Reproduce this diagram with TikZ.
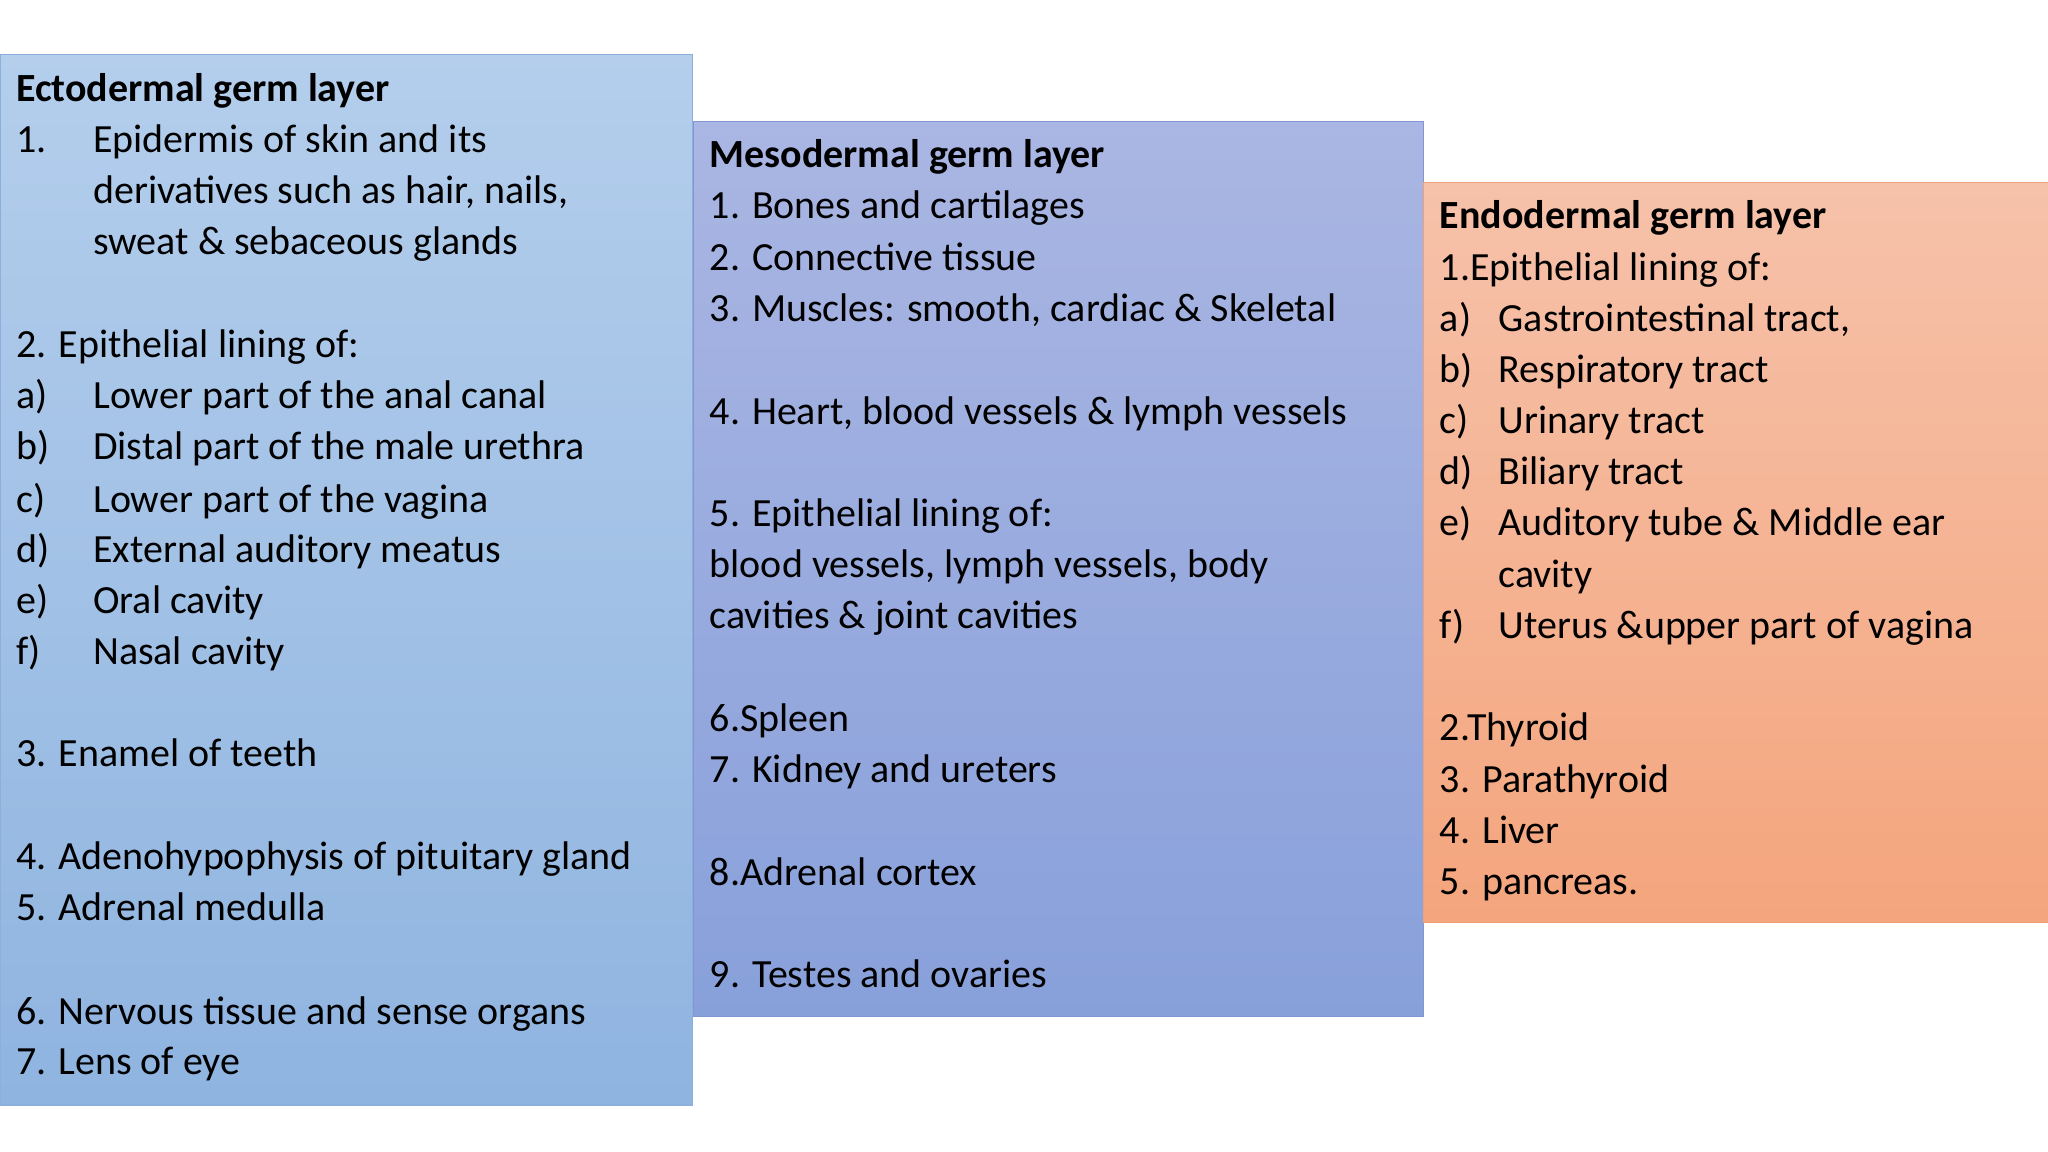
\documentclass[tikz,border=0pt]{standalone}
\usepackage{fontspec}
\setmainfont{Carlito}
\begin{document}
\begin{tikzpicture}[x=0.5pt,y=-0.5pt,
  txt/.style={anchor=base west,inner sep=0pt,font=\fontsize{15.3}{18}\selectfont},
  hd/.style={txt,font=\fontsize{15.3}{18}\selectfont\bfseries}]
\newcommand\tl[4]{\node[txt] (#1) at (#2,#3+9) {#4};}
\newcommand\hl[4]{\node[hd] (#1) at (#2,#3+9) {#4};}
\useasboundingbox (0,0) rectangle (1568,882);
\fill[white] (0,0) rectangle (1568,882);
\shade[top color={rgb,255:red,180;green,206;blue,236},bottom color={rgb,255:red,143;green,180;blue,224},draw={rgb,255:red,140;green,175;blue,220}] (0,42) rectangle (530,846);
\shade[top color={rgb,255:red,170;green,182;blue,227},bottom color={rgb,255:red,136;green,160;blue,218},draw={rgb,255:red,130;green,150;blue,210}] (531,93) rectangle (1090,778);
\shade[top color={rgb,255:red,246;green,194;blue,170},bottom color={rgb,255:red,244;green,165;blue,125},draw={rgb,255:red,240;green,160;blue,120}] (1090,140) rectangle (1568,706);
% left
\hl{e0}{12}{69}{Ectodermal germ layer}
\tl{e1}{12}{108}{1.}\tl{e1b}{71}{108}{Epidermis of skin and its}
\tl{e1c}{71}{147}{derivatives such as hair, nails,}
\tl{e1d}{71}{186}{sweat \& sebaceous glands}
\tl{e2}{12}{265}{2. Epithelial lining of:}
\tl{ea}{12}{304}{a)}\tl{eat}{71}{304}{Lower part of the anal canal}
\tl{eb}{12}{343}{b)}\tl{ebt}{71}{343}{Distal part of the male urethra}
\tl{ec}{12}{383}{c)}\tl{ect}{71}{383}{Lower part of the vagina}
\tl{ed}{12}{422}{d)}\tl{edt}{71}{422}{External auditory meatus}
\tl{ee}{12}{461}{e)}\tl{eet}{71}{461}{Oral cavity}
\tl{ef}{12}{500}{f)}\tl{eft}{71}{500}{Nasal cavity}
\tl{e3}{12}{578}{3. Enamel of teeth}
\tl{e4}{12}{657}{4. Adenohypophysis of pituitary gland}
\tl{e5}{12}{696}{5. Adrenal medulla}
\tl{e6}{12}{775}{6. Nervous tissue and sense organs}
\tl{e7}{12}{814}{7. Lens of eye}
% middle
\hl{m0}{543}{119}{Mesodermal germ layer}
\tl{m1}{543}{158}{1. Bones and cartilages}
\tl{m2}{543}{198}{2. Connective tissue}
\tl{m3}{543}{237}{3. Muscles: smooth, cardiac \& Skeletal}
\tl{m4}{543}{316}{4. Heart, blood vessels \& lymph vessels}
\tl{m5}{543}{394}{5. Epithelial lining of:}
\tl{m5b}{543}{433}{blood vessels, lymph vessels, body}
\tl{m5c}{543}{472}{cavities \& joint cavities}
\tl{m6}{543}{551}{6.Spleen}
\tl{m7}{543}{590}{7. Kidney and ureters}
\tl{m8}{543}{669}{8.Adrenal cortex}
\tl{m9}{543}{747}{9. Testes and ovaries}
% right
\hl{n0}{1102}{166}{Endodermal germ layer}
\tl{n1}{1102}{206}{1.Epithelial lining of:}
\tl{na}{1102}{245}{a)}\tl{nat}{1147}{245}{Gastrointestinal tract,}
\tl{nb}{1102}{284}{b)}\tl{nbt}{1147}{284}{Respiratory tract}
\tl{nc}{1102}{323}{c)}\tl{nct}{1147}{323}{Urinary tract}
\tl{nd}{1102}{362}{d)}\tl{ndt}{1147}{362}{Biliary tract}
\tl{ne}{1102}{401}{e)}\tl{net}{1147}{401}{Auditory tube \& Middle ear}
\tl{ne2}{1147}{441}{cavity}
\tl{nf}{1102}{480}{f)}\tl{nft}{1147}{480}{Uterus \&upper part of vagina}
\tl{n2}{1102}{558}{2.Thyroid}
\tl{n3}{1102}{598}{3. Parathyroid}
\tl{n4}{1102}{637}{4. Liver}
\tl{n5}{1102}{676}{5. pancreas.}
\end{tikzpicture}
\end{document}
